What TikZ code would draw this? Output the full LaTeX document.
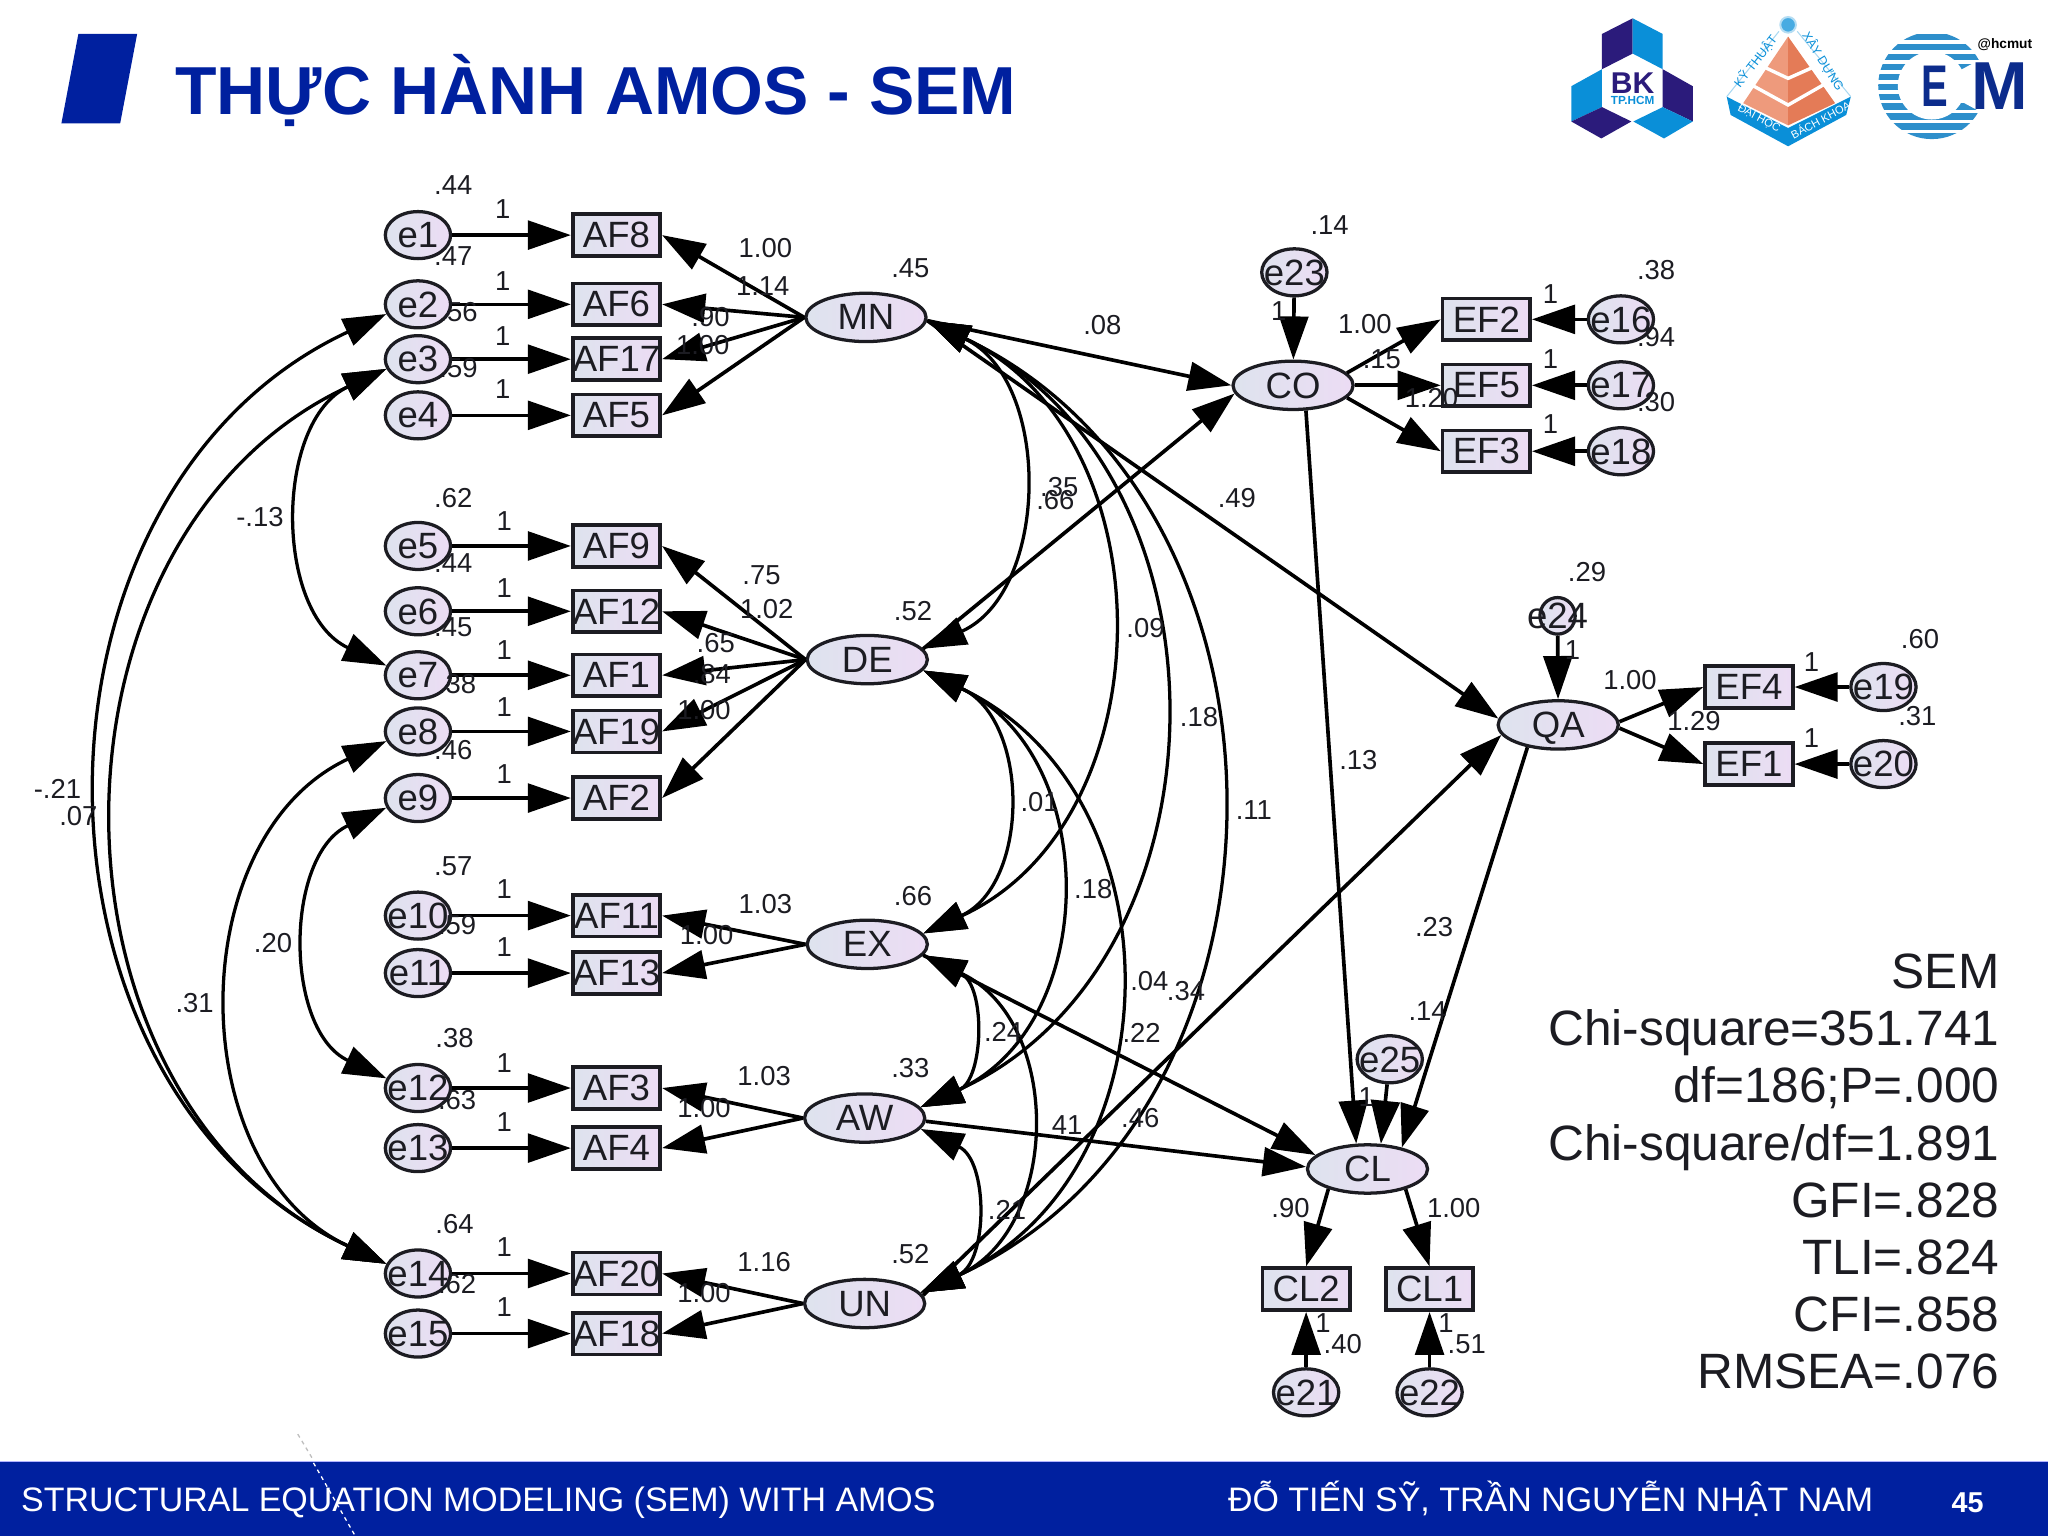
\documentclass[tikz,border=0pt]{standalone}
\usepackage{fontspec}
\setmainfont{Liberation Sans}
\usetikzlibrary{shapes.geometric, arrows.meta}
\definecolor{bandblue}{RGB}{0,32,159}
\definecolor{inkc}{RGB}{28,28,34}
\definecolor{shadea}{RGB}{222,227,238}
\definecolor{shadeb}{RGB}{236,220,244}
\definecolor{bkdark}{RGB}{43,27,123}
\definecolor{bkcyan}{RGB}{10,143,216}
\definecolor{salmona}{RGB}{238,154,124}
\definecolor{salmonb}{RGB}{228,123,87}
\definecolor{stripec}{RGB}{46,143,203}
\definecolor{cemdark}{RGB}{12,44,140}
\newcommand{\fixtxt}[1]{\makebox[0pt]{#1}}

\begin{document}
\begin{tikzpicture}[
  x=1pt, y=-1pt,
  font=\fontsize{28}{30}\selectfont,
  every node/.style={text=inkc},
  errv/.style={draw=inkc, line width=2.5pt, ellipse, inner sep=0pt, text depth=0pt, minimum width=50pt, minimum height=36pt, left color=shadea, right color=shadeb},
  latv/.style={errv, minimum width=92pt, minimum height=37pt},
  obsv/.style={draw=inkc, line width=2.8pt, inner sep=0pt, minimum width=67pt, minimum height=32pt, left color=shadea, right color=shadeb},
  arr/.style={-{Triangle[length=33pt, width=22pt]}, line width=2.8pt, draw=black},
  cov/.style={{Triangle[length=33pt, width=22pt]}-{Triangle[length=33pt, width=22pt]}, line width=2.5pt, draw=black},
  lbl/.style={font=\fontsize{21}{22}\selectfont, inner sep=0pt},
  fitbox/.style={font=\fontsize{38}{43.8}\selectfont, align=right, inner sep=0pt, anchor=east},
  barlbl/.style={font=\fontsize{26}{28}\selectfont, text=white, inner sep=0pt, anchor=base west},
]
  \useasboundingbox (0,0) rectangle (1568,1176);

  % header and footer
  \fill[bandblue] (60,26) -- (105,26) -- (92,94.5) -- (47,94.5) -- cycle;
  \node[font=\fontsize{52}{54}\selectfont\bfseries, text=bandblue, inner sep=0pt, anchor=west] (title) at (134,69) {THỰC HÀNH AMOS - SEM};
  \fill[bandblue] (0,1119) rectangle (1568,1176);
  \draw[blue!30, line width=1pt] (0,1119) -- (1568,1119);
  \draw[black!25, dashed, line width=1pt] (228,1098) -- (240,1118);
  \draw[white, dashed, line width=1pt] (240,1120) -- (272,1176);
  \node[barlbl] (foota) at (16,1157) {STRUCTURAL EQUATION MODELING (SEM) WITH AMOS};
  \node[barlbl] (footb) at (940,1157) {ĐỖ TIẾN SỸ, TRẦN NGUYỄN NHẬT NAM};
  \node[barlbl, font=\fontsize{22}{24}\selectfont\bfseries] (pageno) at (1494,1158) {45};

  % BK logo
  \fill[bkdark] (1250,14) -- (1226.5,26) -- (1226.5,53) -- (1250,41) -- cycle;
  \fill[bkcyan] (1250,14) -- (1273,26) -- (1273,53) -- (1250,41) -- cycle;
  \fill[bkcyan] (1203,66) -- (1226.5,53) -- (1226.5,82) -- (1203,93) -- cycle;
  \fill[bkdark] (1203,93) -- (1226.5,82) -- (1249,93) -- (1226,106) -- cycle;
  \fill[bkdark] (1296,66) -- (1273,53) -- (1273,82) -- (1296,93) -- cycle;
  \fill[bkcyan] (1296,93) -- (1273,82) -- (1250.5,93) -- (1274,106) -- cycle;
  \node[font=\fontsize{23}{24}\selectfont\bfseries, text=bkdark, inner sep=0pt] (bktxt) at (1250,64) {BK};
  \node[font=\fontsize{9}{10}\selectfont\bfseries, text=bkcyan, inner sep=0pt] (bkcity) at (1250,77) {TP.HCM};

  % faculty logo
  \fill[bkcyan] (1322,74) -- (1369,98) -- (1417,74) -- (1413.5,88) -- (1369,112) -- (1325,88) -- cycle;
  \draw[bkcyan!35, line width=.8pt] (1322,74) -- (1362,24) (1417,74) -- (1376,24);
  \fill[salmona] (1369,28) -- (1334.6,79) -- (1369,96) -- cycle;
  \fill[salmonb] (1369,28) -- (1405,79) -- (1369,96) -- cycle;
  \draw[white, line width=2.6pt] (1352,52) -- (1369,60) -- (1387,52) (1341,65) -- (1369,80.4) -- (1396,65);
  \fill[bkcyan!75, draw=bkcyan!30, line width=1.5pt] (1369,19) circle (6);
  \node[font=\fontsize{9.5}{10}\selectfont, text=bkcyan, rotate=52, inner sep=0pt] (ktxt) at (1344,47) {KỸ THUẬT};
  \node[font=\fontsize{9.5}{10}\selectfont, text=bkcyan, rotate=-58, inner sep=0pt] (xtxt) at (1396,47) {XÂY DỰNG};
  \node[font=\fontsize{8.5}{10}\selectfont, text=white, rotate=-28, inner sep=0pt] (dtxt) at (1346.6,90.6) {ĐẠI HỌC};
  \node[font=\fontsize{8.5}{10}\selectfont, text=white, rotate=28, inner sep=0pt] (btxt) at (1393.7,91.5) {BÁCH KHOA};

  % CEM logo
  \begin{scope}
    \clip (1479,65.5) circle (41);
    \foreach \s in {0,...,10}
      \fill[stripec] (1430,26+7.6*\s) rectangle (1530,31+7.6*\s);
  \end{scope}
  \fill[white] (1479,65.5) circle (26);
  \fill[white] (1479,65.5) -- (1530,38) -- (1530,93) -- cycle;
  \node[font=\fontsize{45}{46}\selectfont\bfseries, text=cemdark, inner sep=0pt] (cemE) at (1481,66) {\scalebox{.68}[1]{E}};
  \node[font=\fontsize{52}{54}\selectfont\bfseries, text=cemdark, inner sep=0pt] (cemM) at (1531,66) {M};
  \node[font=\fontsize{10.5}{11}\selectfont\bfseries, text=black, inner sep=0pt] (cemtag) at (1535,34) {@hcmut};

  % indicators with their errors
  \foreach \n/\y/\b in {1/180/AF8, 2/233/AF6, 3/275/AF17, 4/318/AF5, 5/418/AF9, 6/468/AF12, 7/517/AF1, 8/560/AF19, 9/611/AF2, 10/701/AF11, 11/745/AF13, 12/833/AF3, 13/879/AF4, 14/975/AF20, 15/1021/AF18} {
    \node[errv] (e\n) at (320,\y) {\fixtxt{e\n}};
    \node[obsv] (\b) at (472,\y) {\fixtxt{\b}};
    \draw[arr] (e\n) -- (\b);
  }

  \node[latv] (MN) at (663,243) {\fixtxt{MN}};
  \node[latv] (DE) at (664,505) {\fixtxt{DE}};
  \node[latv] (EX) at (664,723) {\fixtxt{EX}};
  \node[latv] (AW) at (662,856) {\fixtxt{AW}};
  \node[latv] (UN) at (662,998) {\fixtxt{UN}};
  \node[latv] (CO) at (990,295) {\fixtxt{CO}};
  \node[latv] (QA) at (1193,555) {\fixtxt{QA}};
  \node[latv] (CL) at (1047,895) {\fixtxt{CL}};

  \foreach \b/\y in {EF2/244.5, EF5/295, EF3/345.5, EF4/526, EF1/585} {
    \node[obsv] (\b) at ({\y<400 ? 1138 : 1339},\y) {\fixtxt{\b}};
  }
  \node[obsv] (CL2) at (1000,987) {\fixtxt{CL2}};
  \node[obsv] (CL1) at (1094.5,987) {\fixtxt{CL1}};

  \node[errv] (e16) at (1241,244.5) {\fixtxt{e16}};
  \node[errv] (e17) at (1241,295) {\fixtxt{e17}};
  \node[errv] (e18) at (1241,345.5) {\fixtxt{e18}};
  \node[errv] (e19) at (1442,526) {\fixtxt{e19}};
  \node[errv] (e20) at (1442,585) {\fixtxt{e20}};
  \node[errv] (e21) at (1000,1066) {\fixtxt{e21}};
  \node[errv] (e22) at (1094.5,1066) {\fixtxt{e22}};
  \node[errv] (e23) at (991,208.5) {\fixtxt{e23}};
  \node[errv, minimum width=27pt, minimum height=28pt] (e24) at (1192.5,471.5) {\fixtxt{e24}};
  \node[errv] (e25) at (1064,811) {\fixtxt{e25}};

  % loadings
  \foreach \b in {AF8, AF6, AF17, AF5} \draw[arr] (MN.west) -- (\b.east);
  \foreach \b in {AF9, AF12, AF1, AF19, AF2} \draw[arr] (DE.west) -- (\b.east);
  \foreach \b in {AF11, AF13} \draw[arr] (EX.west) -- (\b.east);
  \foreach \b in {AF3, AF4} \draw[arr] (AW.west) -- (\b.east);
  \foreach \b in {AF20, AF18} \draw[arr] (UN.west) -- (\b.east);
  \draw[arr] (CO.13) -- (EF2.west);
  \draw[arr] (CO.east) -- (EF5.west);
  \draw[arr] (CO.-13) -- (EF3.west);
  \draw[arr] (QA.3) -- (EF4.west);
  \draw[arr] (QA.-3) -- (EF1.west);
  \draw[arr] (CL.207) -- (CL2.north);
  \draw[arr] (CL.-28) -- (CL1.north);
  \foreach \a/\b in {e16/EF2, e17/EF5, e18/EF3, e19/EF4, e20/EF1, e21/CL2, e22/CL1, e23/CO, e24/QA} \draw[arr] (\a) -- (\b);
  \draw[arr] (e25) -- (CL.62);

  % structural paths
  \draw[arr] (MN.-3) -- (CO.west);
  \draw[arr] (MN.-3) -- (QA.174);
  \draw[arr] (DE.11) -- (CO.188);
  \draw[arr] (CO.-63) -- (CL.114);
  \draw[arr] (EX.-11) -- (CL.165);
  \draw[arr] (AW.-3) -- (CL.178);
  \draw[arr] (UN.8) -- (QA.190);
  \draw[arr] (QA.216) -- (CL.32);

  % covariances
  \foreach \a/\b/\lo in {e2.197/e14.163/1.13, e3.197/e14.163/1.13, e3.197/e7.163/1.07, e8.197/e14.163/1.11, e9.197/e12.163/1.07}
    \draw[cov] (\a) to[bend right=65, looseness=\lo] (\b);
  \foreach \a/\b/\lo in {MN.-3/DE.11/1.08, MN.-3/EX.11/1.12, MN.-3/AW.11/1.13, MN.-3/UN.11/1.135, DE.-11/EX.11/1.15, DE.-11/AW.11/1.16, DE.-11/UN.11/1.17, EX.-11/AW.11/1.17, EX.-11/UN.11/1.17, AW.-11/UN.11/1.17}
    \draw[cov] (\a) to[bend left=65, looseness=\lo] (\b);

  % estimates
  \foreach \x/\y/\lab [count=\i] in {
    347/142/.44, 385/160/1, 347/196/.47, 385/215/1, 351/239/.56, 385/257/1, 351/282/.59, 385/298/1,
    586/190/1.00, 584/219/1.14, 544/243/.90, 538/264/1.00, 697/205/.45,
    347/381/.62, 386/399/1, 347/431/.44, 386/450/1, 347/480/.45, 386/498/1, 350/524/.38, 386/541/1, 347/574/.46, 386/593/1,
    583/440/.75, 587/466/1.02, 548/492/.65, 545/516/.84, 539/544/1.00, 699/468/.52,
    347/663/.57, 386/681/1, 350/708/.59, 386/725/1, 586/692/1.03, 541/716/1.00, 699/686/.66,
    348/795/.38, 386/814/1, 350/842/.63, 386/859/1, 585/824/1.03, 539/848/1.00, 697/818/.33,
    348/937/.64, 386/955/1, 350/983/.62, 386/1001/1, 585/966/1.16, 539/990/1.00, 697/960/.52,
    199/396/-.13, 44/604/-.21, 60/625/.07, 209/722/.20, 149/768/.31,
    844/249/.08, 811/373/.35, 808/383/.66, 947/381/.49, 877/481/.09, 918/549/.18, 960/620/.11,
    796/614/.01, 837/681/.18, 880/751/.04, 908/759/.34, 874/791/.22, 768/790/.24, 817/861/41, 873/856/.46, 771/926/.21,
    1040/582/.13, 1098/710/.23, 1093/774/.14,
    1018/172/.14, 979/238/1, 1045/248/1.00, 1058/275/.15, 1096/305/1.20,
    1268/207/.38, 1187/225/1, 1268/258/.94, 1187/275/1, 1268/308/.30, 1187/325/1,
    1215/438/.29, 1204/498/1, 1248/521/1.00, 1297/552/1.29, 1470/489/.60, 1387/507/1, 1468/548/.31, 1387/565/1,
    988/925/.90, 1113/925/1.00, 1046/840/1, 1013/1013/1, 1028/1029/.40, 1107/1013/1, 1123/1029/.51}
    \node[lbl] (est\i) at (\x,\y) {\lab};

  \node[fitbox] (fit) at (1531,897) {SEM\\Chi-square=351.741\\df=186;P=.000\\Chi-square/df=1.891\\GFI=.828\\TLI=.824\\CFI=.858\\RMSEA=.076};
\end{tikzpicture}
\end{document}
